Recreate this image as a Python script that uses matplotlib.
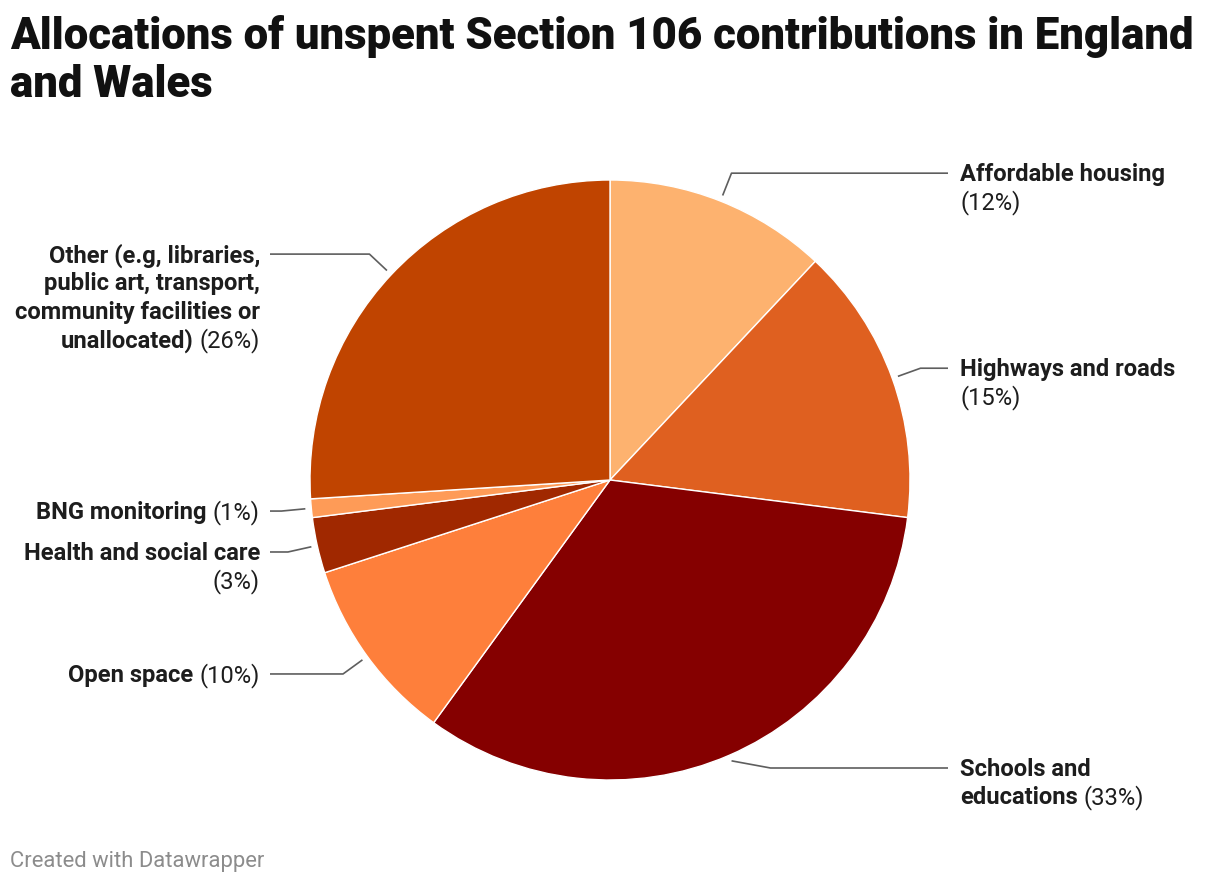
import matplotlib
matplotlib.use("Agg")
import matplotlib.pyplot as plt
import numpy as np

# datos (porcentajes)
categories = ["Affordable housing", "Highways and roads", "Schools and educations",
              "Open space", "Health and social care", "BNG monitoring",
              "Other (e.g, libraries, public art, transport, community facilities or unallocated)"]
shares = [12, 15, 33, 10, 3, 1, 26]
colors = ["#fdb26f", "#df6020", "#850000", "#fe7f3b", "#a02800", "#fe9b57", "#c04400"]

# lineas de la etiqueta (la ultima lleva el porcentaje)
label_lines = [
    ["Affordable housing", ""],
    ["Highways and roads", ""],
    ["Schools and", "educations"],
    ["Open space"],
    ["Health and social care", ""],
    ["BNG monitoring"],
    ["Other (e.g, libraries,", "public art, transport,", "community facilities or", "unallocated)"],
]

# layout en pixeles de la figura
W, H = 1220, 886
CX, CY, R = 610, 480, 300
LINE_H = 28.3
TXT_DY = 1.5
label_y = {2: 768}          # etiquetas desplazadas por Datawrapper
elbow_dx = {2: 39}

plt.rcParams["font.family"] = ["Roboto", "DejaVu Sans"]
TXT = "#1d1d1d"
LEAD = "#5e5e5e"
FS = 17.1

fig = plt.figure(figsize=(W / 100, H / 100), dpi=100)
ax = fig.add_axes([(CX - R) / W, (H - CY - R) / H, 2 * R / W, 2 * R / H])
ax.pie(shares, colors=colors, startangle=90, counterclock=False, radius=1,
       wedgeprops=dict(edgecolor="white", linewidth=1.0))
ax.set_xlim(-1, 1)
ax.set_ylim(-1, 1)
ax.axis("off")

ov = fig.add_axes([0, 0, 1, 1])
ov.set_xlim(0, W)
ov.set_ylim(H, 0)
ov.axis("off")
ov.patch.set_alpha(0)

renderer = fig.canvas.get_renderer()

def pt(theta, r):
    return CX + r * R * np.sin(theta), CY - r * R * np.cos(theta)

cum = np.cumsum([0] + shares[:-1])
for i, (s, c0) in enumerate(zip(shares, cum)):
    theta = np.deg2rad((c0 + s / 2) / 100 * 360)
    ax0, ay0 = pt(theta, 1.02)
    ex, ey = pt(theta, 1.1)
    right = np.sin(theta) > 0
    if i in label_y:
        ey = label_y[i]
        ex = ax0 + elbow_dx[i]
    ly = ey + TXT_DY
    lx_end = 948 if right else 270
    ov.plot([ax0, ex, lx_end], [ay0, ey, ey], color=LEAD, lw=1.2, solid_capstyle="butt")

    lines = label_lines[i]
    pct = f"({s}%)"
    for j, txt in enumerate(lines):
        y = ly + j * LINE_H
        last = j == len(lines) - 1
        if right:
            x = 960
            if txt:
                t = ov.text(x, y, txt, ha="left", va="center", fontsize=FS,
                            fontweight="bold", color=TXT)
                x += t.get_window_extent(renderer).width + 6
            if last:
                ov.text(x, y, pct, ha="left", va="center", fontsize=FS, color=TXT)
        else:
            x = 260
            if last:
                t = ov.text(x, y, pct, ha="right", va="center", fontsize=FS, color=TXT)
                x -= t.get_window_extent(renderer).width + 6
            if txt:
                ov.text(x, y, txt, ha="right", va="center", fontsize=FS,
                        fontweight="bold", color=TXT)

fig.text(10 / W, 1 - 37 / H, "Allocations of unspent Section 106 contributions in England",
         fontsize=31.5, fontweight="black", color="#111111", ha="left", va="center")
fig.text(10 / W, 1 - 85 / H, "and Wales",
         fontsize=31.5, fontweight="black", color="#111111", ha="left", va="center")
fig.text(10 / W, 1 - 862 / H, "Created with Datawrapper", fontsize=15.8,
         color="#8c8c8c", ha="left", va="center")

fig.savefig("out.png", dpi=100, facecolor="white")
